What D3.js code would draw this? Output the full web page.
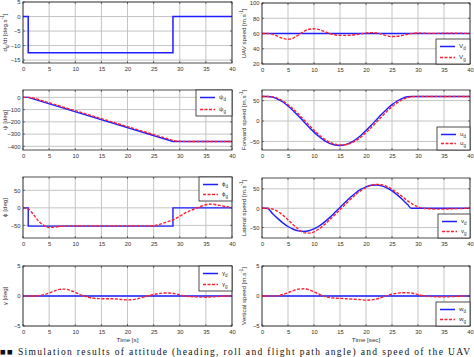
<!DOCTYPE html>
<html><head><meta charset="utf-8">
<script src="https://cdn.jsdelivr.net/npm/d3@7"></script>
<style>
body{margin:0;background:#fff;overflow:hidden;}
svg{display:block;font-family:"Liberation Sans",Arial,sans-serif;}
</style></head><body>
<svg id="c" width="474" height="357"></svg>
<script>
// ---------- data ----------
const xTicks = [0,5,10,15,20,25,30,35,40];
const time = [0,1,2,3,4,5,6,7,8,9,10,11,12,13,14,15,16,17,18,19,20,21,22,23,24,25,26,27,28,29,30,31,32,33,34,35,36,37,38,39,40];
const stepTime = [0,1,1,28.7,28.7,40];
const flatTime = [0,40];
const refTime = [0,1,2,3,4,5,6,7,8,9,10,11,12,13,14,15,16,17,18,19,20,21,22,23,24,25,26,27,28,28.7,40];
const headingTime = [0,1,28.7,40];

const yawRateRef = [0,0,-12.5,-12.5,0,0];
const yawRateTicks = [5,0,-5,-10,-15];

const speedRef = [60,60];
const speedAct = [60,60,59,56.5,53.5,52.5,54,58,62.5,65.5,66.2,65,62.5,60,58.3,57.6,57.5,57.8,58.5,59.5,60.6,61.2,60.8,59.2,57.2,56,56.3,57.5,59,60.2,60.6,60.4,60.2,60.1,60.2,60.4,60.5,60.4,60.3,60.2,60.1];
const speedTicks = [20,40,60,80,100];

const headingRef = [0,0,-360,-360];
const headingAct = [0,0,-5,-18,-31,-44,-57,-70,-83,-96,-109,-122,-135,-148,-161,-174,-187,-200,-213,-226,-239,-252,-265,-278,-291,-304,-317,-330,-343,-354,-359,-360,-360,-360,-360,-360,-360,-360,-360,-360,-360];
const headingTicks = [0,-100,-200,-300,-400];

const forwardRef = [60,60,58.5,53.9,46.6,36.9,25.4,12.5,-1,-14.5,-27.2,-38.6,-47.9,-54.8,-58.9,-60,-58,-53,-45.3,-35.3,-23.4,-10.4,3.1,16.5,29.1,40.1,49.1,55.6,59.3,60,60];
const forwardAct = [60,60,59.5,55.5,49,40,29.5,17,4,-9.5,-22.5,-34.5,-44.5,-52,-56.8,-58.8,-58.2,-54.8,-48.5,-39.5,-28.5,-16,-3,10.5,23.5,35,45,52.5,57.5,59.7,60,60,60,60,60,60,60,60,60,60,60];
const forwardTicks = [-50,0,50];

const rollRef = [0,0,-52,-52,0,0];
const rollAct = [0,-3,-19,-38,-50,-56,-55,-53,-52,-51.5,-51.5,-51.5,-51.5,-51.5,-51.5,-51.5,-51.5,-51.5,-51.5,-51.5,-51.5,-51.5,-51.5,-51.5,-51.5,-51,-48,-43,-38,-32,-24,-15,-8,-2,4,9,10.5,9,6,3,0.5];
const rollTicks = [-50,0,50];

const lateralRef = [0,0,-13.5,-26.3,-37.8,-47.3,-54.4,-58.7,-60,-58.2,-53.5,-46,-36.1,-24.4,-11.4,2.1,15.5,28.2,39.4,48.5,55.2,59.1,59.9,57.7,52.5,44.6,34.4,22.5,9.4,0,0];
const lateralAct = [0,0,-2,-8,-18,-30,-43,-54,-63,-64.5,-61,-53,-42.5,-30,-17,-4,9.5,22.5,35,45.5,53.5,59,61.5,60.5,56,49,40,29.5,19,10,3.5,0,-1.5,-2.5,-2.5,-2.5,-2,-1.5,-1,-0.5,0];
const lateralTicks = [-50,0,50];

const pathRef = [0,0];
const pathAct = [0,0,0,0.05,0.2,0.5,0.85,1.1,1.15,0.95,0.6,0.2,-0.1,-0.3,-0.4,-0.45,-0.45,-0.45,-0.5,-0.6,-0.65,-0.6,-0.45,-0.2,0.05,0.25,0.4,0.5,0.5,0.4,0.2,0,-0.1,-0.15,-0.18,-0.2,-0.15,-0.1,-0.05,0,0];
const verticalRef = [0,0];
const verticalAct = [0,0,0,0.05,0.25,0.55,0.9,1.15,1.2,1.05,0.7,0.3,-0.05,-0.25,-0.35,-0.4,-0.45,-0.5,-0.55,-0.6,-0.7,-0.65,-0.5,-0.25,0.05,0.3,0.45,0.55,0.55,0.45,0.25,0.05,-0.05,-0.1,-0.15,-0.15,-0.12,-0.08,-0.04,0,0];
const smallTicks = [-5,0,5];

// ---------- drawing ----------
const svg = d3.select('#c');
svg.append('rect').attr('width',474).attr('height',357).attr('fill','#fff');
const BLUE = '#1e1eff', RED = '#ff2030', GRID = '#c4c4c4', TXT = '#303030';
const TICK_FS = 5.8, LAB_FS = 6.2;
let clipId = 0;

function addText(sel, parts, size) {
  let shift = 0;
  parts.forEach(([t, m]) => {
    let target = m === 'sub' ? 1.8 : m === 'sup' ? -2.6 : 0;
    const ts = sel.append('tspan').text(t).attr('dy', target - shift);
    if (m) ts.attr('font-size', size * 0.72);
    shift = target;
  });
}

function panel(p) {
  const x = d3.scaleLinear().domain([0,40]).range([p.x0,p.x1]);
  const y = d3.scaleLinear().domain(p.domain).range([p.y1,p.y0]);
  const g = svg.append('g');
  g.append('g').selectAll('line').data(xTicks).join('line')
    .attr('x1',d=>x(d)).attr('x2',d=>x(d)).attr('y1',p.y0).attr('y2',p.y1)
    .attr('stroke',GRID).attr('stroke-width',1);
  g.append('g').selectAll('line').data(p.ticks).join('line')
    .attr('x1',p.x0).attr('x2',p.x1).attr('y1',d=>y(d)).attr('y2',d=>y(d))
    .attr('stroke',GRID).attr('stroke-width',1);
  const xa = g.append('g').attr('transform',`translate(0,${p.y1})`)
    .call(d3.axisBottom(x).tickValues(xTicks).tickSize(0).tickPadding(3.5));
  xa.select('.domain').remove();
  xa.selectAll('text').attr('font-size',TICK_FS).attr('fill',TXT).attr('font-family','Liberation Sans, Arial, sans-serif');
  const ya = g.append('g').attr('transform',`translate(${p.x0},0)`)
    .call(d3.axisLeft(y).tickValues(p.ticks).tickSize(0).tickPadding(2.5));
  ya.select('.domain').remove();
  ya.selectAll('text').attr('font-size',TICK_FS).attr('fill',TXT).attr('font-family','Liberation Sans, Arial, sans-serif');
  const tk = g.append('g').attr('stroke','#333').attr('stroke-width',0.6);
  xTicks.forEach(t=>{
    tk.append('line').attr('x1',x(t)).attr('x2',x(t)).attr('y1',p.y1).attr('y2',p.y1-2);
    tk.append('line').attr('x1',x(t)).attr('x2',x(t)).attr('y1',p.y0).attr('y2',p.y0+2);
  });
  p.ticks.forEach(t=>{
    tk.append('line').attr('x1',p.x0).attr('x2',p.x0+2).attr('y1',y(t)).attr('y2',y(t));
    tk.append('line').attr('x1',p.x1).attr('x2',p.x1-2).attr('y1',y(t)).attr('y2',y(t));
  });
  const id = 'clip' + (clipId++);
  svg.append('clipPath').attr('id',id).append('rect')
    .attr('x',p.x0).attr('y',p.y0).attr('width',p.x1-p.x0).attr('height',p.y1-p.y0);
  const lg = g.append('g').attr('clip-path',`url(#${id})`);
  p.series.forEach(s=>{
    const pts = s.t.map((t,i)=>[t,s.v[i]]);
    const line = d3.line().x(d=>x(d[0])).y(d=>y(d[1])).curve(s.curve || d3.curveLinear);
    lg.append('path').attr('d',line(pts)).attr('fill','none')
      .attr('stroke',s.color).attr('stroke-width',s.w||1.4)
      .attr('stroke-dasharray',s.dash||null);
  });
  g.append('rect').attr('x',p.x0).attr('y',p.y0).attr('width',p.x1-p.x0).attr('height',p.y1-p.y0)
    .attr('fill','none').attr('stroke','#222').attr('stroke-width',0.8);
  const yl = g.append('text').attr('transform',`translate(${p.ylx},${(p.y0+p.y1)/2}) rotate(-90)`)
    .attr('text-anchor','middle').attr('font-size',LAB_FS).attr('fill',TXT);
  addText(yl, p.ylabel, LAB_FS);
  if (p.legend) {
    const [bx,by,bw,bh] = p.legend.box;
    const L = g.append('g');
    L.append('rect').attr('x',bx).attr('y',by).attr('width',bw).attr('height',bh)
      .attr('fill','#fff').attr('stroke','#222').attr('stroke-width',0.8);
    p.legend.items.forEach((it,i)=>{
      const ly = by + (i===0 ? 7.5 : bh-6.5);
      L.append('line').attr('x1',bx+4).attr('x2',bx+19).attr('y1',ly).attr('y2',ly)
        .attr('stroke',it.color).attr('stroke-width',1.5).attr('stroke-dasharray',it.dash||null);
      const tx = L.append('text').attr('x',bx+23).attr('y',ly+1.5).attr('font-size',LAB_FS).attr('fill',TXT);
      addText(tx, [[it.base,''],[it.sub,'sub']], LAB_FS);
    });
  }
  if (p.xlabel) {
    g.append('text').attr('x',(p.x0+p.x1)/2).attr('y',p.y1+16).attr('text-anchor','middle')
      .attr('font-size',LAB_FS).attr('fill',TXT).text(p.xlabel);
  }
}

const dashR = '3,1.5';
const L0 = 23, L1 = 232, R0 = 262, R1 = 470;
const unitSpeed = [['[m.s',''],['-1','sup'],[']','']];

panel({x0:L0,x1:L1,y0:2,y1:63,domain:[-16,5],ticks:yawRateTicks,ylx:7,
  ylabel:[['d',''],['ψ','sub'],['/dt [deg.s',''],['-1','sup'],[']','']],
  series:[{t:stepTime,v:yawRateRef,color:BLUE,w:1.5}]});

panel({x0:R0,x1:R1,y0:3,y1:64,domain:[20,100],ticks:speedTicks,ylx:246,
  ylabel:[['UAV speed ','']].concat(unitSpeed),
  series:[{t:flatTime,v:speedRef,color:BLUE},{t:time,v:speedAct,color:RED,dash:dashR,curve:d3.curveMonotoneX}],
  legend:{box:[436,39,34,25],items:[{base:'V',sub:'d',color:BLUE},{base:'V',sub:'g',color:RED,dash:dashR}]}});

panel({x0:L0,x1:L1,y0:90,y1:150,domain:[-430,60],ticks:headingTicks,ylx:7,
  ylabel:[['ψ [deg]','']],
  series:[{t:headingTime,v:headingRef,color:BLUE},{t:time,v:headingAct,color:RED,dash:dashR,curve:d3.curveMonotoneX}],
  legend:{box:[196,90,36,26],items:[{base:'ψ',sub:'d',color:BLUE},{base:'ψ',sub:'g',color:RED,dash:dashR}]}});

panel({x0:R0,x1:R1,y0:90,y1:150,domain:[-71,76],ticks:forwardTicks,ylx:246,
  ylabel:[['Forward speed ','']].concat(unitSpeed),
  series:[{t:refTime,v:forwardRef,color:BLUE,curve:d3.curveMonotoneX},{t:time,v:forwardAct,color:RED,dash:dashR,curve:d3.curveMonotoneX}],
  legend:{box:[437,127,33,23],items:[{base:'u',sub:'d',color:BLUE},{base:'u',sub:'g',color:RED,dash:dashR}]}});

panel({x0:L0,x1:L1,y0:177,y1:238,domain:[-86,88],ticks:rollTicks,ylx:7,
  ylabel:[['ϕ [deg]','']],
  series:[{t:stepTime,v:rollRef,color:BLUE},{t:time,v:rollAct,color:RED,dash:dashR,curve:d3.curveMonotoneX}],
  legend:{box:[199,177,33,24],items:[{base:'ϕ',sub:'d',color:BLUE},{base:'ϕ',sub:'g',color:RED,dash:dashR}]}});

panel({x0:R0,x1:R1,y0:178,y1:238,domain:[-77,78],ticks:lateralTicks,ylx:246,
  ylabel:[['Lateral speed ','']].concat(unitSpeed),
  series:[{t:refTime,v:lateralRef,color:BLUE,curve:d3.curveMonotoneX},{t:time,v:lateralAct,color:RED,dash:dashR,curve:d3.curveMonotoneX}],
  legend:{box:[438,214,32,24],items:[{base:'v',sub:'d',color:BLUE},{base:'v',sub:'g',color:RED,dash:dashR}]}});

panel({x0:L0,x1:L1,y0:266,y1:326,domain:[-5,5],ticks:smallTicks,ylx:7,
  ylabel:[['γ [deg]','']],xlabel:'Time [s]',
  series:[{t:flatTime,v:pathRef,color:BLUE},{t:time,v:pathAct,color:RED,dash:dashR,curve:d3.curveMonotoneX}],
  legend:{box:[199,266,33,25],items:[{base:'γ',sub:'d',color:BLUE},{base:'γ',sub:'g',color:RED,dash:dashR}]}});

panel({x0:R0,x1:R1,y0:266,y1:326,domain:[-5,5],ticks:smallTicks,ylx:246,
  ylabel:[['Vertical speed ','']].concat(unitSpeed),xlabel:'Time [sec]',
  series:[{t:flatTime,v:verticalRef,color:BLUE},{t:time,v:verticalAct,color:RED,dash:dashR,curve:d3.curveMonotoneX}],
  legend:{box:[436,302,34,24],items:[{base:'w',sub:'d',color:BLUE},{base:'w',sub:'g',color:RED,dash:dashR}]}});

// caption strip at the bottom
svg.append('text').attr('x',0).attr('y',354.5).attr('font-family','Liberation Serif, Times New Roman, serif')
  .attr('font-size',9.5).attr('fill','#111').attr('textLength',470).attr('lengthAdjust','spacing')
  .text('■■  Simulation results of attitude (heading, roll and flight path angle) and speed of the UAV');
</script>
</body></html>
